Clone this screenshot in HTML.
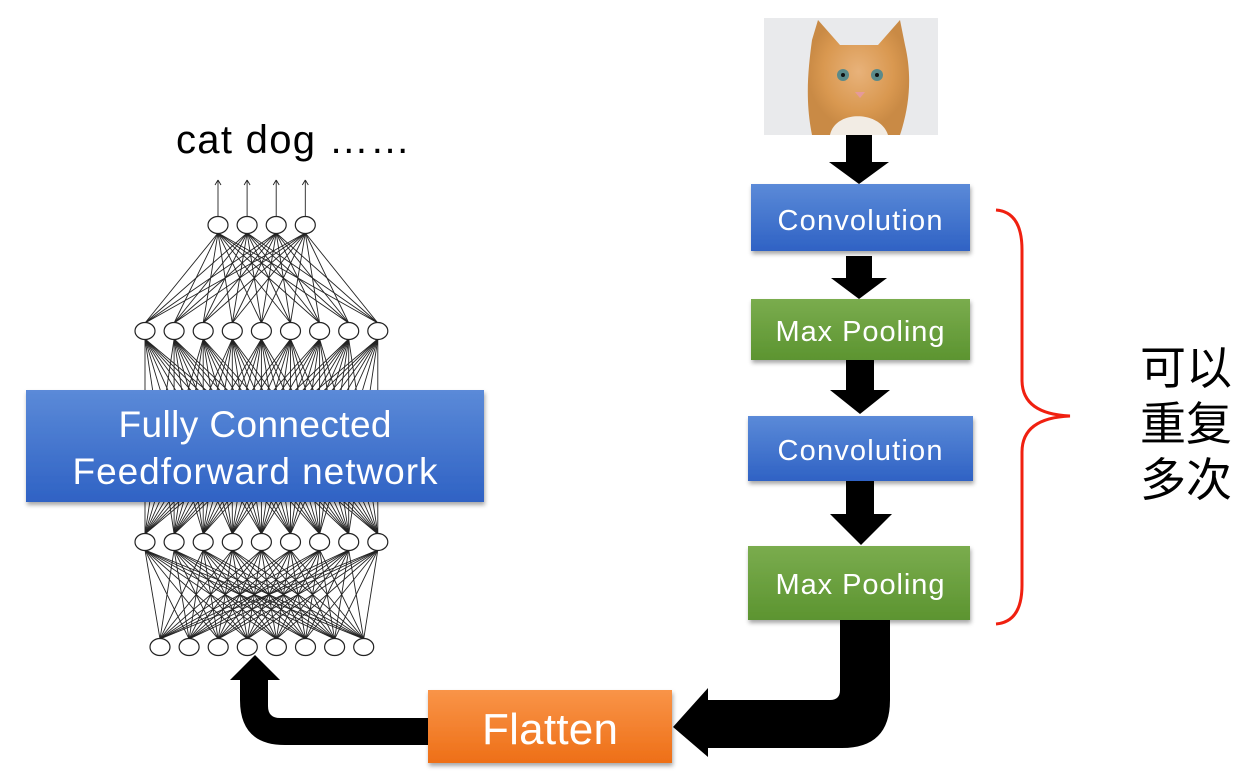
<!DOCTYPE html>
<html><head><meta charset="utf-8"><style>
html,body{margin:0;padding:0;background:#fff;width:1257px;height:781px;overflow:hidden}
svg{display:block}
</style></head><body>
<svg id="s" width="1257" height="781" viewBox="0 0 1257 781" xmlns="http://www.w3.org/2000/svg">
<defs>
<linearGradient id="gb" x1="0" y1="0" x2="0" y2="1"><stop offset="0" stop-color="#5b8ad8"/><stop offset="1" stop-color="#2f62c4"/></linearGradient>
<linearGradient id="gg" x1="0" y1="0" x2="0" y2="1"><stop offset="0" stop-color="#7aac4e"/><stop offset="1" stop-color="#5c9430"/></linearGradient>
<linearGradient id="go" x1="0" y1="0" x2="0" y2="1"><stop offset="0" stop-color="#f99448"/><stop offset="1" stop-color="#ee6f17"/></linearGradient>
<radialGradient id="cat" cx="0.5" cy="0.45" r="0.5"><stop offset="0" stop-color="#e8b27a"/><stop offset="0.7" stop-color="#d99850"/><stop offset="1" stop-color="#c98a45"/></radialGradient>
<filter id="sh" x="-5%" y="-5%" width="110%" height="120%"><feDropShadow dx="1" dy="3" stdDeviation="2" flood-color="#000" flood-opacity="0.35"/></filter>
</defs>
<g id="net" stroke="#222" stroke-width="0.9" fill="none"></g>
<g id="nodes" stroke="#222" stroke-width="1.2" fill="#fff"></g>
<text x="176" y="153" font-family="Liberation Sans, sans-serif" font-size="40" fill="#000" textLength="234">cat dog ……</text>

<!-- FC box -->
<rect x="26" y="390" width="458" height="112" fill="url(#gb)" filter="url(#sh)"/>
<text x="255" y="437" text-anchor="middle" font-family="Liberation Sans, sans-serif" font-size="37" fill="#fff" textLength="273">Fully Connected</text>
<text x="255" y="484" text-anchor="middle" font-family="Liberation Sans, sans-serif" font-size="37" fill="#fff" textLength="365">Feedforward network</text>

<!-- cat image -->
<rect x="764" y="18" width="174" height="117" fill="#e9eaec"/>
<path d="M812 135 C805 100 808 70 812 40 L818 20 L840 45 L878 45 L900 20 L905 45 C912 75 910 105 900 135 Z" fill="url(#cat)"/>
<path d="M830 135 C835 110 880 110 888 135 Z" fill="#f2ece4"/>
<circle cx="843" cy="75" r="6" fill="#5a8a8a"/><circle cx="877" cy="75" r="6" fill="#5a8a8a"/>
<circle cx="843" cy="75" r="2" fill="#111"/><circle cx="877" cy="75" r="2" fill="#111"/>
<path d="M855 92 L865 92 L860 98 Z" fill="#e59a9a"/>

<!-- down arrows -->
<g fill="#000">
<path d="M846 135 H872 V162 H889 L859 184 L829 162 H846 Z"/>
<path d="M846 256 H872 V278 H887 L859 299 L831 278 H846 Z"/>
<path d="M846 360 H874 V390 H890 L860 414 L830 390 H846 Z"/>
<path d="M846 481 H874 V514 H892 L861 545 L830 514 H846 Z"/>
<path d="M840 620 H890 V700 Q890 748 842 748 H708 V757 L673 727 L708 688 V700 H830 Q840 700 840 690 Z"/>
<path d="M428 718 V745 H285 Q240 745 240 700 V680 H230 L255 655 L280 680 H268 V706 Q268 718 280 718 Z"/>
</g>

<rect x="751" y="184" width="219" height="67" fill="url(#gb)" filter="url(#sh)"/>
<text x="860" y="230" text-anchor="middle" font-family="Liberation Sans, sans-serif" font-size="29" fill="#fff" textLength="165">Convolution</text>
<rect x="751" y="299" width="219" height="61" fill="url(#gg)" filter="url(#sh)"/>
<text x="860" y="341" text-anchor="middle" font-family="Liberation Sans, sans-serif" font-size="29" fill="#fff" textLength="169">Max Pooling</text>
<rect x="748" y="416" width="225" height="65" fill="url(#gb)" filter="url(#sh)"/>
<text x="860" y="460" text-anchor="middle" font-family="Liberation Sans, sans-serif" font-size="29" fill="#fff" textLength="165">Convolution</text>
<rect x="748" y="546" width="222" height="74" fill="url(#gg)" filter="url(#sh)"/>
<text x="860" y="594" text-anchor="middle" font-family="Liberation Sans, sans-serif" font-size="29" fill="#fff" textLength="169">Max Pooling</text>

<rect x="428" y="690" width="244" height="73" fill="url(#go)" filter="url(#sh)"/>
<text x="550" y="744" text-anchor="middle" font-family="Liberation Sans, sans-serif" font-size="44" fill="#fff" textLength="136">Flatten</text>

<path d="M996 210 Q1022 212 1022 250 V380 Q1022 414 1070 416 Q1022 418 1022 452 V585 Q1022 622 996 624" fill="none" stroke="#f02010" stroke-width="3"/>

<g font-family="Liberation Sans, 'Noto Sans CJK SC', sans-serif" font-size="46" fill="#000">
<text x="1140" y="384">可以</text>
<text x="1140" y="440">重复</text>
<text x="1140" y="496">多次</text>
</g>
</svg>
<script>
(function(){
var ns="http://www.w3.org/2000/svg";
var net=document.getElementById('net'),nodes=document.getElementById('nodes');
function xs(n,x0){var a=[];for(var i=0;i<n;i++)a.push(x0+i*29.1);return a;}
var L=[{y:225,x:xs(4,218)},{y:331,x:xs(9,145)},{y:542,x:xs(9,145)},{y:647,x:xs(8,160)}];
function line(x1,y1,x2,y2){var l=document.createElementNS(ns,'line');l.setAttribute('x1',x1);l.setAttribute('y1',y1);l.setAttribute('x2',x2);l.setAttribute('y2',y2);net.appendChild(l);}
for(var k=0;k<3;k++){var a=L[k],b=L[k+1];for(var i=0;i<a.x.length;i++)for(var j=0;j<b.x.length;j++)line(a.x[i],a.y+8,b.x[j],b.y-8);}
for(var i=0;i<4;i++){line(L[0].x[i],217,L[0].x[i],181);line(L[0].x[i]-3,185,L[0].x[i],180);line(L[0].x[i]+3,185,L[0].x[i],180);}
L.forEach(function(l){l.x.forEach(function(x){var e=document.createElementNS(ns,'ellipse');e.setAttribute('cx',x);e.setAttribute('cy',l.y);e.setAttribute('rx',10);e.setAttribute('ry',8.5);nodes.appendChild(e);});});
})();
</script>
</body></html>
